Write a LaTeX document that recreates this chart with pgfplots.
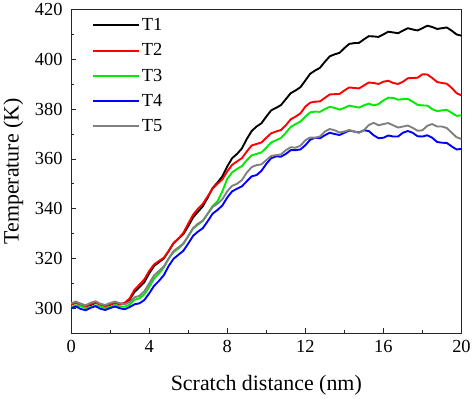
\documentclass[border=0pt]{standalone}
\usepackage{pgfplots}
\pgfplotsset{compat=1.18}
\usepackage{fontspec}
\setmainfont{Liberation Serif}
\definecolor{cgreen}{RGB}{0,235,0}
\definecolor{cgray}{RGB}{128,128,128}
\begin{document}
\begin{tikzpicture}
\begin{axis}[
  scale only axis, width=392pt, height=325pt,
  xmin=0, xmax=20, ymin=290, ymax=420,
  xtick={0,4,...,20}, ytick={300,320,...,420},
  minor xtick={2,6,...,18}, minor ytick={290,310,...,410},
  tick align=inside, xtick pos=bottom, ytick pos=left,
  major tick length=5pt, minor tick length=3pt,
  axis line style={line width=0.9pt, black!85},
  every tick/.style={line width=0.8pt, black!85},
  /pgf/number format/assume math mode=true,
  tick label style={font=\fontsize{18.5}{21}\selectfont},
  yticklabel style={xshift=-5pt},
  xticklabel style={yshift=-4pt},
  label style={font=\fontsize{22}{25}\selectfont},
  xlabel={Scratch distance (nm)}, ylabel={Temperature (K)},
  xlabel style={yshift=-15pt},
  ylabel style={yshift=5pt},
  legend style={draw=none, fill=none, at={(0.045,0.985)}, anchor=north west,
    font=\fontsize{18.5}{21}\selectfont, row sep=7.5pt},
  legend cell align=left,
  legend image code/.code={\draw[#1, line width=2pt] (0cm,0cm) -- (1.62cm,0cm);},
  every axis plot/.append style={line width=1.9pt, line join=round},
]
\addplot[black] coordinates {(0,301.5)(0.25,302.4)(0.5,301.8)(0.75,300.8)(1,301.3)(1.25,302.2)(1.5,301.7)(1.75,300.9)(2,301.4)(2.25,302.3)(2.5,301.8)(2.75,302.0)(3,303.5)(3.25,306.6)(3.5,308.5)(3.75,310.5)(4,314)(4.25,317)(4.5,318.5)(4.75,320)(5,323)(5.25,326.2)(5.5,328)(5.75,329.8)(6,333)(6.25,336.5)(6.5,338.8)(6.75,341)(7,344.5)(7.25,348.3)(7.5,350.5)(7.75,353)(8,357)(8.25,360.3)(8.5,362)(8.75,364.2)(9,368)(9.25,371.2)(9.5,373)(9.75,374.3)(10,377)(10.25,379.5)(10.5,380.5)(10.75,381.6)(11,384)(11.25,386.4)(11.5,387.5)(11.75,388.8)(12,391.5)(12.25,394.2)(12.5,395.5)(12.75,396.6)(13,399)(13.25,401.2)(13.5,402)(13.75,402.6)(14,404.5)(14.25,406.2)(14.5,406.5)(14.75,406.6)(15,408)(15.25,409.3)(15.5,409.2)(15.75,409)(16,410)(16.25,411.1)(16.5,410.8)(16.75,410.5)(17,411.5)(17.25,412.5)(17.5,412)(17.75,411.6)(18,412.5)(18.25,413.5)(18.5,413)(18.75,412.2)(19,412.5)(19.25,412.8)(19.5,411.5)(19.75,410.0)(20,409.5)};
\addlegendentry{T1}
\addplot[red] coordinates {(0,301.5)(0.25,302.2)(0.5,301.3)(0.75,300.8)(1,301.7)(1.25,302.3)(1.5,301.4)(1.75,300.9)(2,301.6)(2.25,302.1)(2.5,301.5)(2.75,302.2)(3,304)(3.25,307.5)(3.5,309.5)(3.75,311.6)(4,315)(4.25,317.6)(4.5,319)(4.75,320.3)(5,323)(5.25,326.2)(5.5,328)(5.75,330.3)(6,334)(6.25,337.6)(6.5,340)(6.75,342)(7,345)(7.25,348.1)(7.5,350)(7.75,351.8)(8,355)(8.25,357.6)(8.5,359)(8.75,360.3)(9,363)(9.25,365.4)(9.5,366)(9.75,366.6)(10,368.5)(10.25,370.3)(10.5,371)(10.75,371.6)(11,373.5)(11.25,375.9)(11.5,377)(11.75,378.3)(12,381)(12.25,382.6)(12.5,383)(12.75,383.1)(13,384.5)(13.25,385.9)(13.5,386)(13.75,386.1)(14,387.5)(14.25,388.7)(14.5,388.5)(14.75,388.3)(15,389.5)(15.25,390.7)(15.5,390.5)(15.75,390.1)(16,391)(16.25,391.4)(16.5,390.5)(16.75,390.1)(17,391)(17.25,392.4)(17.5,392.5)(17.75,392.6)(18,394)(18.25,393.9)(18.5,392.5)(18.75,390.9)(19,390.5)(19.25,390.2)(19.5,388.5)(19.75,386.4)(20,385.5)};
\addlegendentry{T2}
\addplot[cgreen] coordinates {(0,300.5)(0.25,301.2)(0.5,300.8)(0.75,300.0)(1,300.4)(1.25,301.2)(1.5,300.7)(1.75,300.0)(2,300.5)(2.25,301.3)(2.5,300.8)(2.75,300.6)(3,301.5)(3.25,303.4)(3.5,304)(3.75,305.6)(4,308.5)(4.25,311.9)(4.5,314)(4.75,316.4)(5,320)(5.25,322.6)(5.5,324)(5.75,325.9)(6,329)(6.25,332)(6.5,333.6)(6.75,335.2)(7,338)(7.25,341.1)(7.5,343)(7.75,347)(8,352)(8.25,354.6)(8.5,356)(8.75,357.1)(9,359.5)(9.25,361.4)(9.5,362)(9.75,362.6)(10,364.5)(10.25,366.6)(10.5,367.5)(10.75,368.4)(11,370.5)(11.25,372.8)(11.5,374)(11.75,375)(12,377)(12.25,378.7)(12.5,379)(12.75,378.9)(13,380)(13.25,380.9)(13.5,380.5)(13.75,379.8)(14,380.5)(14.25,381.4)(14.5,381)(14.75,380.6)(15,381.5)(15.25,382.2)(15.5,381.5)(15.75,382)(16,383.5)(16.25,384.6)(16.5,384.5)(16.75,383.8)(17,384)(17.25,384.1)(17.5,383)(17.75,381.7)(18,381.5)(18.25,381.4)(18.5,380)(18.75,379.2)(19,379.5)(19.25,379.7)(19.5,378.5)(19.75,377.3)(20,377.5)};
\addlegendentry{T3}
\addplot[blue] coordinates {(0,300)(0.25,300.7)(0.5,299.7)(0.75,299.2)(1,300.2)(1.25,300.8)(1.5,299.8)(1.75,299.3)(2,300.1)(2.25,300.7)(2.5,300)(2.75,299.6)(3,300.5)(3.25,301.6)(3.5,302)(3.75,303.3)(4,306)(4.25,309)(4.5,311)(4.75,313.3)(5,317)(5.25,319.9)(5.5,321.5)(5.75,323.1)(6,326)(6.25,329.1)(6.5,330.8)(6.75,332.2)(7,335)(7.25,338)(7.5,339.5)(7.75,341.3)(8,344.5)(8.25,347)(8.5,348)(8.75,349)(9,351)(9.25,353)(9.5,353.5)(9.75,355.2)(10,358)(10.25,360.3)(10.5,361)(10.75,360.9)(11,362)(11.25,363.5)(11.5,363.5)(11.75,363.8)(12,365.5)(12.25,367.7)(12.5,368.5)(12.75,368.3)(13,369.5)(13.25,370.5)(13.5,370)(13.75,369.6)(14,370.5)(14.25,371.4)(14.5,371)(14.75,370.6)(15,371.5)(15.25,371.2)(15.5,369.5)(15.75,368.3)(16,368.5)(16.25,369.4)(16.5,369)(16.75,369)(17,370.5)(17.25,371.2)(17.5,370.5)(17.75,369.1)(18,369)(18.25,369.5)(18.5,368.5)(18.75,366.8)(19,366.5)(19.25,366.4)(19.5,365)(19.75,363.8)(20,364)};
\addlegendentry{T4}
\addplot[cgray] coordinates {(0,302)(0.25,302.7)(0.5,301.7)(0.75,301.2)(1,302.2)(1.25,302.8)(1.5,301.8)(1.75,301.3)(2,302.1)(2.25,302.7)(2.5,302)(2.75,301.6)(3,302.5)(3.25,304.4)(3.5,305)(3.75,306.8)(4,310)(4.25,313.2)(4.5,315)(4.75,316.8)(5,320)(5.25,323)(5.5,324.5)(5.75,326)(6,329)(6.25,332.2)(6.5,334)(6.75,335.2)(7,338)(7.25,340.7)(7.5,342)(7.75,343.8)(8,347)(8.25,349.2)(8.5,350)(8.75,351.5)(9,354.5)(9.25,356.7)(9.5,357.5)(9.75,357.8)(10,359.5)(10.25,361.2)(10.5,361.5)(10.75,361.8)(11,363.5)(11.25,364.7)(11.5,364.5)(11.75,365.3)(12,367.5)(12.25,368.6)(12.5,368.5)(12.75,369)(13,371)(13.25,372)(13.5,371.5)(13.75,370.6)(14,371)(14.25,371.6)(14.5,371)(14.75,370.5)(15,371.5)(15.25,373.6)(15.5,374.5)(15.75,373.5)(16,374)(16.25,374.4)(16.5,373.5)(16.75,372.6)(17,373)(17.25,373.4)(17.5,372.5)(17.75,371.3)(18,371.5)(18.25,373.3)(18.5,374)(18.75,373)(19,373)(19.25,372.4)(19.5,370.5)(19.75,368.7)(20,368)};
\addlegendentry{T5}
\end{axis}
\end{tikzpicture}
\end{document}
